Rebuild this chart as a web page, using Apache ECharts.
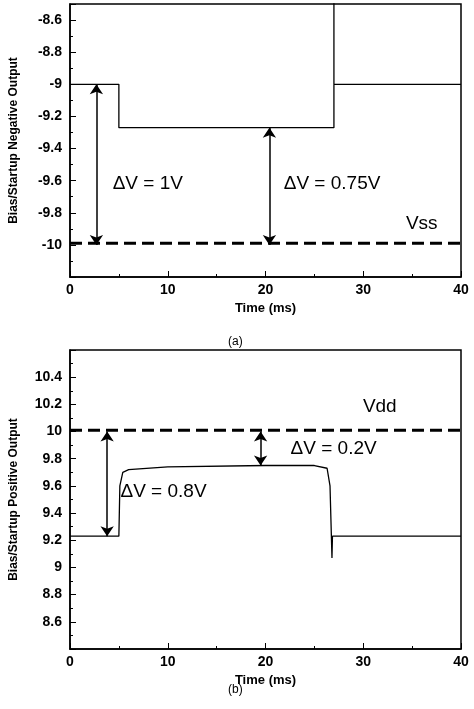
<!DOCTYPE html>
<html><head><meta charset="utf-8">
<script src="https://cdn.jsdelivr.net/npm/echarts@6/dist/echarts.min.js"></script>
<style>html,body{margin:0;background:#fff}#c{width:474px;height:709px}</style>
</head><body><div id="c"></div>
<script>
// panel (a): negative output
const negLine = [[0, -9], [5, -9], [5, -9.27], [27, -9.27], [27, -8.4], [27, -9], [40, -9]];
const vss = -9.99;
const negArrows = [[2.7, -9, -10], [20.4, -9.27, -10]];
const negLabels = [['ΔV = 1V', 3.8, -9.62], ['ΔV = 0.75V', 21.3, -9.62], ['Vss', 33.8, -9.87]];
// panel (b): positive output
const posLine = [[0, 9.23], [5, 9.23], [5.1, 9.6], [5.4, 9.7], [6, 9.72], [10, 9.74], [20, 9.75], [25, 9.75], [26.3, 9.73], [26.6, 9.6], [26.8, 9.07], [26.85, 9.23], [40, 9.23]];
const vdd = 10.01;
const posArrows = [[3.8, 10, 9.23], [19.5, 10, 9.75]];
const posLabels = [['ΔV = 0.8V', 4.6, 9.56], ['ΔV = 0.2V', 22, 9.87], ['Vdd', 29.4, 10.18]];

const font = 'Liberation Sans';
function xAxis(i) {
  return {gridIndex: i, min: 0, max: 40, interval: 10, name: 'Time (ms)', nameLocation: 'middle', nameGap: 25,
    nameTextStyle: {fontWeight: 'bold', fontSize: 13, fontFamily: font, color: '#000'},
    axisLine: {lineStyle: {color: '#000', width: 1.5}}, axisTick: {inside: true, length: 6, lineStyle: {color: '#000'}},
    minorTick: {show: true, splitNumber: 2, length: 3, lineStyle: {color: '#000'}},
    axisLabel: {fontWeight: 'bold', fontSize: 14, fontFamily: font, color: '#000', margin: 6}, splitLine: {show: false}};
}
function yAxis(i, min, max, name) {
  return {gridIndex: i, min, max, interval: 0.2, name, nameLocation: 'middle', nameGap: 50,
    nameTextStyle: {fontWeight: 'bold', fontSize: 12, fontFamily: font, color: '#000'},
    axisLine: {lineStyle: {color: '#000', width: 1.5}}, axisTick: {inside: true, length: 6, lineStyle: {color: '#000'}},
    minorTick: {show: true, splitNumber: 2, length: 3, lineStyle: {color: '#000'}},
    axisLabel: {fontWeight: 'bold', fontSize: 14, fontFamily: font, color: '#000', showMinLabel: false, showMaxLabel: false,
      formatter: v => String(+v.toFixed(1))}, splitLine: {show: false}};
}
function arrows(list) {
  return list.map(a => [{coord: [a[0], a[1]]}, {coord: [a[0], a[2]]}]);
}
function labels(list) {
  return list.map(l => ({coord: [l[1], l[2]], value: l[0]}));
}
function panel(i, data, ref, arr, lab) {
  return [
    {type: 'line', xAxisIndex: i, yAxisIndex: i, data, symbol: 'none', lineStyle: {color: '#000', width: 1.3}, silent: true,
      markLine: {silent: true, symbol: ['arrow', 'arrow'], symbolSize: 10, label: {show: false},
        lineStyle: {color: '#000', width: 1.5, type: 'solid'}, data: arrows(arr)}},
    {type: 'line', xAxisIndex: i, yAxisIndex: i, data: [[0, ref], [40, ref]], symbol: 'none', silent: true,
      lineStyle: {color: '#000', width: 3, type: [12, 6]},
      markPoint: {symbol: 'rect', symbolSize: 1, itemStyle: {color: 'transparent'},
        label: {show: true, position: 'right', formatter: p => p.value, fontSize: 19, fontFamily: font, color: '#000'},
        data: labels(lab)}}
  ];
}
const chart = echarts.init(document.getElementById('c'));
chart.setOption({
  animation: false,
  grid: [
    {left: 65, top: 4, width: 396, height: 273, show: true, borderColor: '#000', borderWidth: 1.5},
    {left: 65, top: 350, width: 396, height: 299, show: true, borderColor: '#000', borderWidth: 1.5}
  ],
  xAxis: [xAxis(0), xAxis(1)],
  yAxis: [yAxis(0, -10.2, -8.5, 'Bias/Startup Negative Output'), yAxis(1, 8.4, 10.6, 'Bias/Startup Positive Output')],
  graphic: [
    {type: 'text', left: 228, top: 336, style: {text: '(a)', fontSize: 12, fontFamily: font, fill: '#000'}},
    {type: 'text', left: 228, top: 684, style: {text: '(b)', fontSize: 12, fontFamily: font, fill: '#000'}}
  ],
  series: [...panel(0, negLine, vss, negArrows, negLabels), ...panel(1, posLine, vdd, posArrows, posLabels)]
});
</script></body></html>
